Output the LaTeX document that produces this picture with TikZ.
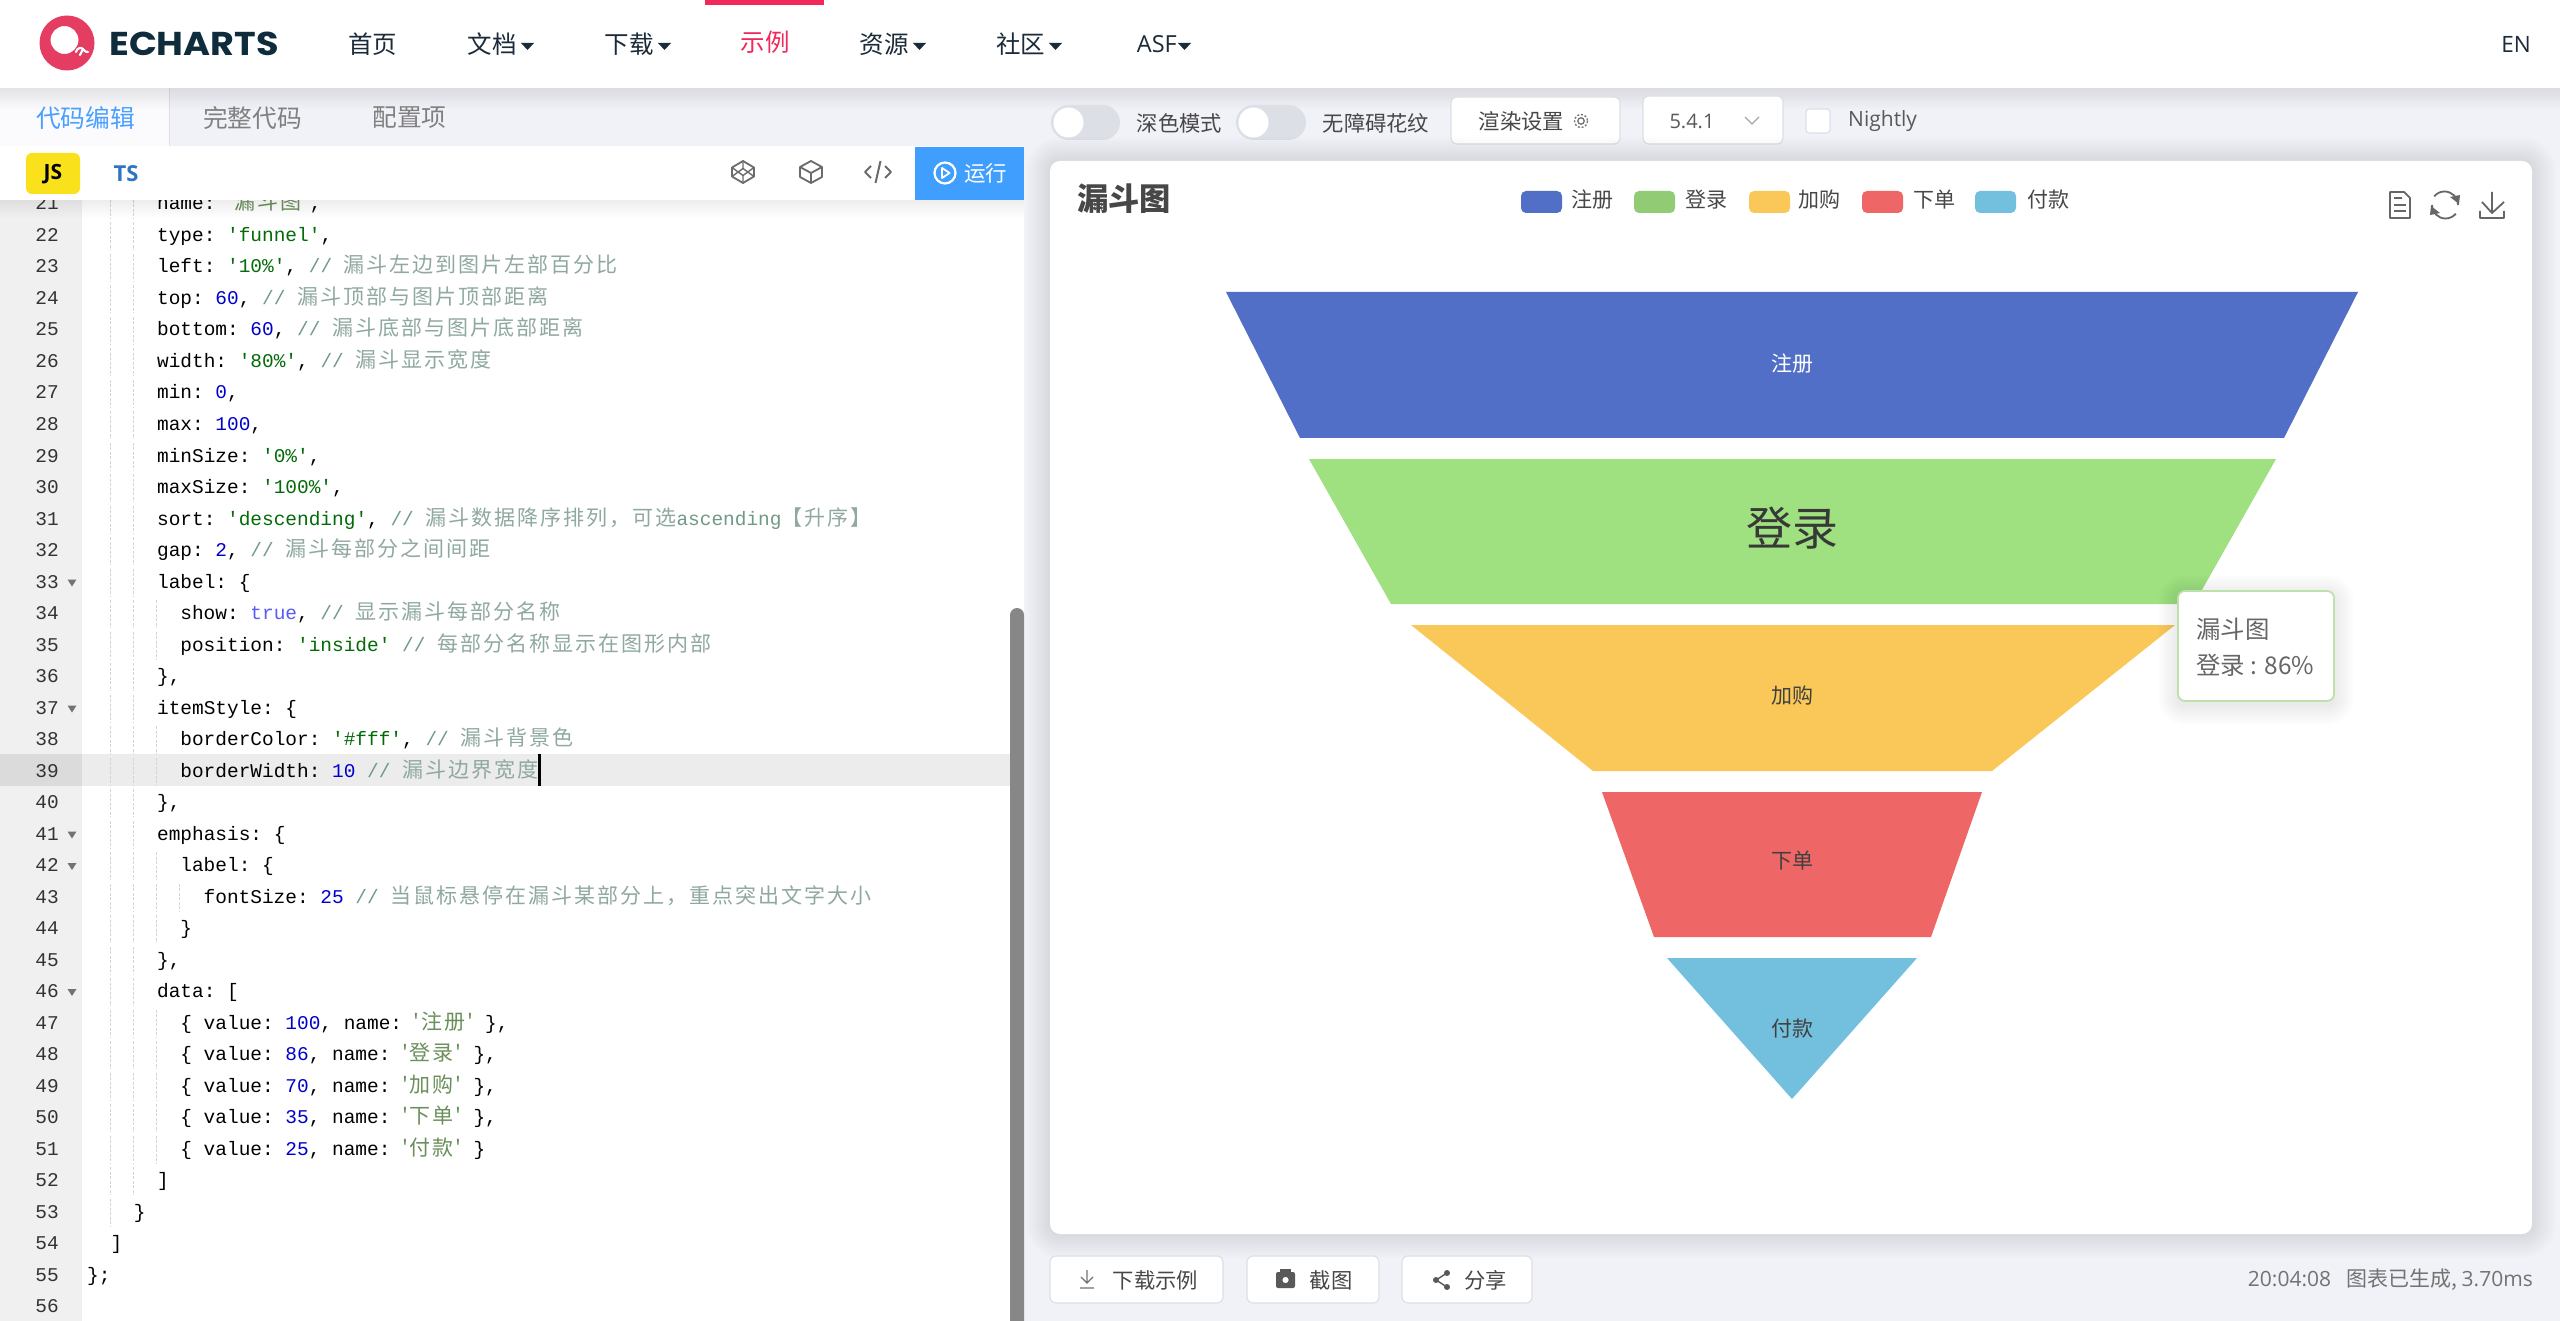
\documentclass[tikz,border=0pt]{standalone}
\usepackage{fontspec}
\setmainfont{Noto Sans CJK SC}
\setmonofont{Liberation Mono}
\newfontfamily\cfont[LetterSpace=9.5]{Noto Sans CJK SC}
\newfontfamily\osfont{Open Sans}
\newfontfamily\logofont{Poppins}
\definecolor{navtext}{HTML}{1B2B3A}
\definecolor{brand}{HTML}{F0295A}
\definecolor{panebg}{HTML}{F1F2F8}
\definecolor{btnline}{HTML}{DCDFE6}
\definecolor{cstr}{HTML}{036A07}
\definecolor{cstrcjk}{HTML}{6B8F5A}
\definecolor{cnum}{HTML}{0000CD}
\definecolor{cbool}{HTML}{585CF6}
\definecolor{ccom}{HTML}{6F9A86}
\definecolor{ccjk}{HTML}{8FA8A0}
\definecolor{guidec}{HTML}{D4D4D4}
\definecolor{fblue}{HTML}{516FC6}
\definecolor{fgreen}{HTML}{9FE080}
\definecolor{lgreen}{HTML}{91CC75}
\definecolor{fyellow}{HTML}{FAC858}
\definecolor{fred}{HTML}{EE6666}
\definecolor{fsky}{HTML}{73C0DE}
\definecolor{tabblue}{HTML}{4A9FFF}
\definecolor{jsyellow}{HTML}{F9E11B}
\definecolor{tsblue}{HTML}{2F74C0}
\definecolor{runblue}{HTML}{409EFF}
\definecolor{logored}{HTML}{E53C61}
\definecolor{logodark}{HTML}{0F2C3C}
\definecolor{tipline}{HTML}{BEE0AA}
\newcommand{\fpx}[1]{\fontsize{#1}{#1}\selectfont}
\newcommand{\sr}[1]{\textcolor{cstr}{#1}}
\newcommand{\srz}[1]{\textcolor{cstrcjk}{{\cfont\fpx{21}#1}}}
\newcommand{\nm}[1]{\textcolor{cnum}{#1}}
\newcommand{\bl}[1]{\textcolor{cbool}{#1}}
\newcommand{\cm}[1]{\textcolor{ccom}{// }\textcolor{ccjk}{{\cfont\fpx{21}#1}}}
\newcommand{\cl}[3]{\node[codeline] (code#1) at ({87+#2*23.3},{236+(#1-22)*31.5+5.5}) {#3};}
\newcommand{\vshadow}[4]{\foreach \ii in {0,...,#4}{\fill[black,opacity={#3*(1-\ii/(#4+1))}] (#1,{\ii+#2}) rectangle ({#1+1024},{\ii+#2+1});}}
\tikzset{
  x=1pt,y=-1pt,
  codeline/.style={anchor=base west,inner sep=0pt,font=\ttfamily\fpx{19.45},text=black},
  lineno/.style={anchor=base east,inner sep=0pt,font=\ttfamily\fpx{19.45},text=black!80},
  navitem/.style={inner sep=0pt,font=\fpx{24.5},text=navtext},
  ui/.style={inner sep=0pt,font=\fpx{21.3},text=black!72},
  whitebtn/.style={draw=btnline,line width=1.2pt,fill=white,rounded corners=6pt},
  navtri/.style={fill=navtext},
  tabtext/.style={inner sep=0pt,font=\fpx{24.7},text=#1},
  pill/.style={fill=btnline,rounded corners=17.5pt},
  funnellabel/.style={inner sep=0pt,font=\fpx{21},text=black!75},
  legendbox/.style={rounded corners=5pt},
  legendtext/.style={inner sep=0pt,font=\fpx{21},text=black!72},
  iconline/.style={draw=black!58,line width=1.8pt,line join=round},
  toolicon/.style={draw=black!60,line width=1.8pt,line join=round},
  foldmark/.style={fill=black!55},
}
\begin{document}
\begin{tikzpicture}
\useasboundingbox (0,0) rectangle (2560,1321);
% ---- page
\fill[white] (0,0) rectangle (2560,1321);
\fill[panebg] (1024,88) rectangle (2560,1321);
% ---- code area
\fill[white] (0,146) rectangle (1024,1321);
\fill[black!6] (0,146) rectangle (82,1321);
\fill[black!7.5] (82,754) rectangle (1010,786);
\fill[black!14] (0,754) rectangle (82,786);
% guides
\foreach \n in {21,...,52}{\draw[guidec,line width=1pt,dash pattern=on 3pt off 1.5pt] (110,{220.25+(\n-22)*31.5+2}) -- (110,{220.25+(\n-22)*31.5+29.5});
  \draw[guidec,line width=1pt,dash pattern=on 3pt off 1.5pt] (133,{220.25+(\n-22)*31.5+2}) -- (133,{220.25+(\n-22)*31.5+29.5});}
\foreach \n in {53}{\draw[guidec,line width=1pt,dash pattern=on 3pt off 1.5pt] (110,{220.25+(\n-22)*31.5+2}) -- (110,{220.25+(\n-22)*31.5+29.5});}
\foreach \n in {34,35,38,39,42,43,44,47,48,49,50,51}{\draw[guidec,line width=1pt,dash pattern=on 3pt off 1.5pt] (156,{220.25+(\n-22)*31.5+2}) -- (156,{220.25+(\n-22)*31.5+29.5});}
\draw[guidec,line width=1pt,dash pattern=on 3pt off 1.5pt] (179,{220.25+21*31.5+2}) -- (179,{220.25+21*31.5+29.5});
% line numbers
\foreach \n in {21,...,56}{\node[lineno] (num\n) at (59,{236+(\n-22)*31.5+5.5}) {\n};}
\foreach \n in {33,37,41,42,46}{\fill[foldmark] (67.5,{236+(\n-22)*31.5-3}) -- (76.5,{236+(\n-22)*31.5-3}) -- (72,{236+(\n-22)*31.5+4}) -- cycle;}
% code
\cl{21}{3}{name: \srz{'漏斗图'},}
\cl{22}{3}{type: \sr{'funnel'},}
\cl{23}{3}{left: \sr{'10\%'}, \cm{漏斗左边到图片左部百分比}}
\cl{24}{3}{top: \nm{60}, \cm{漏斗顶部与图片顶部距离}}
\cl{25}{3}{bottom: \nm{60}, \cm{漏斗底部与图片底部距离}}
\cl{26}{3}{width: \sr{'80\%'}, \cm{漏斗显示宽度}}
\cl{27}{3}{min: \nm{0},}
\cl{28}{3}{max: \nm{100},}
\cl{29}{3}{minSize: \sr{'0\%'},}
\cl{30}{3}{maxSize: \sr{'100\%'},}
\cl{31}{3}{sort: \sr{'descending'}, \cm{漏斗数据降序排列，可选\textcolor{ccom}{\ttfamily\fpx{19.45}ascending}【升序】}}
\cl{32}{3}{gap: \nm{2}, \cm{漏斗每部分之间间距}}
\cl{33}{3}{label: \{}
\cl{34}{4}{show: \bl{true}, \cm{显示漏斗每部分名称}}
\cl{35}{4}{position: \sr{'inside'} \cm{每部分名称显示在图形内部}}
\cl{36}{3}{\},}
\cl{37}{3}{itemStyle: \{}
\cl{38}{4}{borderColor: \sr{'\#fff'}, \cm{漏斗背景色}}
\cl{39}{4}{borderWidth: \nm{10} \cm{漏斗边界宽度}}
\cl{40}{3}{\},}
\cl{41}{3}{emphasis: \{}
\cl{42}{4}{label: \{}
\cl{43}{5}{fontSize: \nm{25} \cm{当鼠标悬停在漏斗某部分上，重点突出文字大小}}
\cl{44}{4}{\}}
\cl{45}{3}{\},}
\cl{46}{3}{data: [}
\cl{47}{4}{\{ value: \nm{100}, name: \srz{'注册'} \},}
\cl{48}{4}{\{ value: \nm{86}, name: \srz{'登录'} \},}
\cl{49}{4}{\{ value: \nm{70}, name: \srz{'加购'} \},}
\cl{50}{4}{\{ value: \nm{35}, name: \srz{'下单'} \},}
\cl{51}{4}{\{ value: \nm{25}, name: \srz{'付款'} \}}
\cl{52}{3}{]}
\cl{53}{2}{\}}
\cl{54}{1}{]}
\cl{55}{0}{\};}
\fill[black] (538,754) rectangle (540.5,786);
% scrollbar
\fill[black!47,rounded corners=7pt] (1010,608) rectangle (1024,1345);
% ---- toolbar over the code
\vshadow{0}{200}{0.07}{17}
\fill[white] (0,146) rectangle (1024,200);
\fill[panebg] (0,88) rectangle (1024,146);
\fill[white!70!panebg] (0,88) rectangle (169,146);
\draw[black!12,line width=.8pt] (169,88) -- (169,146);
\foreach \ii in {0,...,21}{\fill[black,opacity={0.09*(1-\ii/22)}] (0,{88+\ii}) rectangle (2560,{89+\ii});}
\node[tabtext=tabblue] (tabedit) at (85.5,118) {代码编辑};
\node[tabtext=black!50] (tabfull) at (252.5,118) {完整代码};
\node[tabtext=black!50] (tabopts) at (409.5,118) {配置项};
\fill[jsyellow,rounded corners=6pt] (26,153) rectangle (80,194);
\node[inner sep=0pt,font=\osfont\bfseries\fpx{21},text=black] (jsbtn) at (53,174) {JS};
\node[inner sep=0pt,font=\osfont\bfseries\fpx{22},text=tsblue] (tsbtn) at (126,174) {TS};
% codepen icon
\begin{scope}[shift={(743,172)}]
\draw[iconline] (0,-11) -- (11,-4.5) -- (11,4.5) -- (0,11) -- (-11,4.5) -- (-11,-4.5) -- cycle;
\draw[iconline,line width=1.4pt] (-11,-4.5) -- (0,3.5) -- (11,-4.5) (-11,4.5) -- (0,-3.5) -- (11,4.5) (0,-11) -- (0,-3.5) (0,3.5) -- (0,11);
\end{scope}
\begin{scope}[shift={(811,172)}]
\draw[iconline] (0,-11) -- (11,-5) -- (11,5) -- (0,11) -- (-11,5) -- (-11,-5) -- cycle;
\draw[iconline] (-11,-5) -- (0,1) -- (11,-5) (0,1) -- (0,11);
\end{scope}
\begin{scope}[shift={(878,172)}]
\draw[iconline,line width=2pt] (-7,-6) -- (-13,0) -- (-7,6) (7,-6) -- (13,0) -- (7,6) (2.5,-11) -- (-2.5,11);
\end{scope}
\fill[runblue] (915,147) rectangle (1024,200);
\draw[white,line width=2.2pt] (945,173) circle[radius=10.5];
\draw[white,line width=1.8pt,line join=round] (942,168) -- (949.5,173) -- (942,178) -- cycle;
\node[inner sep=0pt,font=\fpx{21.5},text=white] (runbtn) at (985.5,173) {运行};
% ---- header
\fill[white] (0,0) rectangle (2560,88);
\fill[brand] (705,0) rectangle (824,5);
% logo
\fill[logored,even odd rule] (67,43) circle[radius=27.5] (64.5,40) circle[radius=14];
\draw[white,line width=2.2pt,line cap=round] (76,52) .. controls (77,48) and (81,47) .. (83,49) .. controls (85,52) and (87,52) .. (88,52);
\draw[white,line width=2.2pt,line cap=round] (83,49) -- (80,55);
\node[inner sep=0pt,anchor=base,font=\logofont\bfseries\fpx{33},text=logodark] (logotext) at (194,56) {\scalebox{1.11}[1]{ECHARTS}};
% nav
\node[navitem] (navhome) at (372.5,44) {首页};
\node[navitem] (navdoc) at (492,44) {文档};
\fill[navtri] (521,43) -- (534,43) -- (527.5,50) -- cycle;
\node[navitem] (navdown) at (629,44) {下载};
\fill[navtri] (658,43) -- (671,43) -- (664.5,50) -- cycle;
\node[navitem,text=brand] (navex) at (765,42) {示例};
\node[navitem] (navres) at (884,44) {资源};
\fill[navtri] (913,43) -- (926,43) -- (919.5,50) -- cycle;
\node[navitem] (navcom) at (1020.5,44) {社区};
\fill[navtri] (1049,43) -- (1062,43) -- (1055.5,50) -- cycle;
\node[navitem,font=\osfont\fpx{23.5},anchor=east] (navasf) at (1177,44) {ASF};
\fill[navtri] (1178,43) -- (1191,43) -- (1184.5,50) -- cycle;
\node[navitem,font=\osfont\fpx{22.5}] (naven) at (2516,44) {EN};
% ---- right pane controls
\fill[pill] (1051,105) rectangle (1120,140);
\fill[white] (1068.5,122.5) circle[radius=15];
\node[ui] (lbldark) at (1179.5,123) {深色模式};
\fill[pill] (1236,105) rectangle (1306,140);
\fill[white] (1253.5,122.5) circle[radius=15];
\node[ui] (lblaccess) at (1376,123) {无障碍花纹};
\draw[whitebtn] (1451,97) rectangle (1620,144);
\node[ui] (lblrender) at (1521.5,121) {渲染设置};
\draw[black!55,line width=1.3pt] (1581,121) circle[radius=3.2];
\draw[black!55,line width=1.3pt,dash pattern=on 2pt off 1.8pt] (1581,121) circle[radius=6.5];
\draw[whitebtn] (1643,96) rectangle (1783,144);
\node[inner sep=0pt,font=\osfont\fpx{20},text=black!65] (lblver) at (1692,121) {5.4.1};
\draw[black!35,line width=1.2pt] (1745,117) -- (1752,124) -- (1759,117);
\draw[whitebtn,rounded corners=3pt] (1806,109) rectangle (1830,133);
\node[inner sep=0pt,anchor=west,font=\osfont\fpx{21},text=black!65] (lblnightly) at (1848,121) {Nightly};
% ---- chart card
\foreach \ii in {1,...,12}{\fill[black,opacity=.009,rounded corners={10pt+2pt*\ii}] ({1050-2*\ii},{161-2*\ii}) rectangle ({2532+2*\ii},{1234+2*\ii});}
\fill[white,rounded corners=10pt] (1050,161) rectangle (2532,1234);
\node[inner sep=0pt,font=\bfseries\fpx{31.3},text=black!72] (charttitle) at (1124,199) {漏斗图};
\fill[legendbox,fblue] (1521,191) rectangle (1562,213);
\node[legendtext,anchor=west] (lgA) at (1571,200) {注册};
\fill[legendbox,lgreen] (1634,191) rectangle (1675,213);
\node[legendtext,anchor=west] (lgB) at (1685,200) {登录};
\fill[legendbox,fyellow] (1749,191) rectangle (1790,213);
\node[legendtext,anchor=west] (lgC) at (1798,200) {加购};
\fill[legendbox,fred] (1862,191) rectangle (1903,213);
\node[legendtext,anchor=west] (lgD) at (1913,200) {下单};
\fill[legendbox,fsky] (1975,191) rectangle (2016,213);
\node[legendtext,anchor=west] (lgE) at (2027,200) {付款};
% toolbox
\draw[toolicon] (2390,192) -- (2404,192) -- (2410,198) -- (2410,218) -- (2390,218) -- cycle;
\draw[toolicon,line width=1.5pt] (2394,198) -- (2402,198) (2394,205) -- (2406,205) (2394,211) -- (2406,211);
\draw[toolicon] (2432,205) arc[start angle=180,end angle=40,radius=13.5];
\draw[toolicon] (2458,205) arc[start angle=0,end angle=-140,radius=13.5];
\fill[black!60] (2450,197) -- (2460,195) -- (2459,204) -- cycle (2440,213) -- (2430,215) -- (2431,206) -- cycle;
\draw[toolicon] (2492,192) -- (2492,213) (2482,202) -- (2492,213) -- (2504,202) (2480,211) -- (2480,218) -- (2504,218) -- (2504,211);
% funnel
\fill[fblue] (1226,292) -- (2358,292) -- (2284,438) -- (1300,438) -- cycle;
\fill[fgreen] (1309,459) -- (2276,459) -- (2194,604) -- (1391,604) -- cycle;
\fill[fyellow] (1411,625) -- (2175,625) -- (1992,771) -- (1593,771) -- cycle;
\fill[fred] (1602,792) -- (1982,792) -- (1931,937) -- (1654,937) -- cycle;
\fill[fsky] (1667,958) -- (1917,958) -- (1792,1099) -- cycle;
\node[funnellabel,text=white] (fA) at (1792,363.5) {注册};
\node[funnellabel,font=\fpx{46},text=black!78] (fB) at (1792,528) {登录};
\node[funnellabel] (fC) at (1792,696) {加购};
\node[funnellabel] (fD) at (1792,861) {下单};
\node[funnellabel] (fE) at (1792,1029) {付款};
% tooltip
\foreach \ii in {1,...,10}{\fill[black,opacity=.008,rounded corners={7pt+2pt*\ii}] ({2178-2*\ii},{595-2*\ii}) rectangle ({2334+2*\ii},{705+2*\ii});}
\draw[fill=white,draw=tipline,line width=1.8pt,rounded corners=7pt] (2178,591) rectangle (2334,701);
\node[inner sep=0pt,anchor=west,font=\fpx{24.4},text=black!60] (tipA) at (2196,629) {漏斗图};
\node[inner sep=0pt,anchor=west,font=\fpx{24.4},text=black!60] (tipB) at (2196,665) {登录 : 86\%};
% bottom buttons
\draw[whitebtn] (1050,1256) rectangle (1223,1303);
\draw[black!55,line width=1.3pt] (1087,1270) -- (1087,1283) (1081,1277) -- (1087,1283) -- (1093,1277) (1080,1288) -- (1094,1288);
\node[ui] (btndown) at (1155.5,1280) {下载示例};
\draw[whitebtn] (1247,1256) rectangle (1379,1303);
\fill[black!65,even odd rule,rounded corners=2pt] (1276,1272) rectangle (1295,1288) (1285.5,1280) circle[radius=3.2];
\fill[black!65] (1280,1269) rectangle (1291,1273);
\node[ui] (btnshot) at (1331,1280) {截图};
\draw[whitebtn] (1402,1256) rectangle (1532,1303);
\draw[black!65,line width=1.4pt] (1447,1273) -- (1436,1280) -- (1447,1287);
\fill[black!65] (1447,1273) circle[radius=3] (1436,1280) circle[radius=3] (1447,1287) circle[radius=3];
\node[ui] (btnshare) at (1485.5,1280) {分享};
\node[inner sep=0pt,anchor=east,font=\fpx{21},text=black!55] (status) at (2533,1280) {{\osfont 20:04:08}\hspace{15pt}图表已生成, {\osfont 3.70ms}};
\end{tikzpicture}
\end{document}
